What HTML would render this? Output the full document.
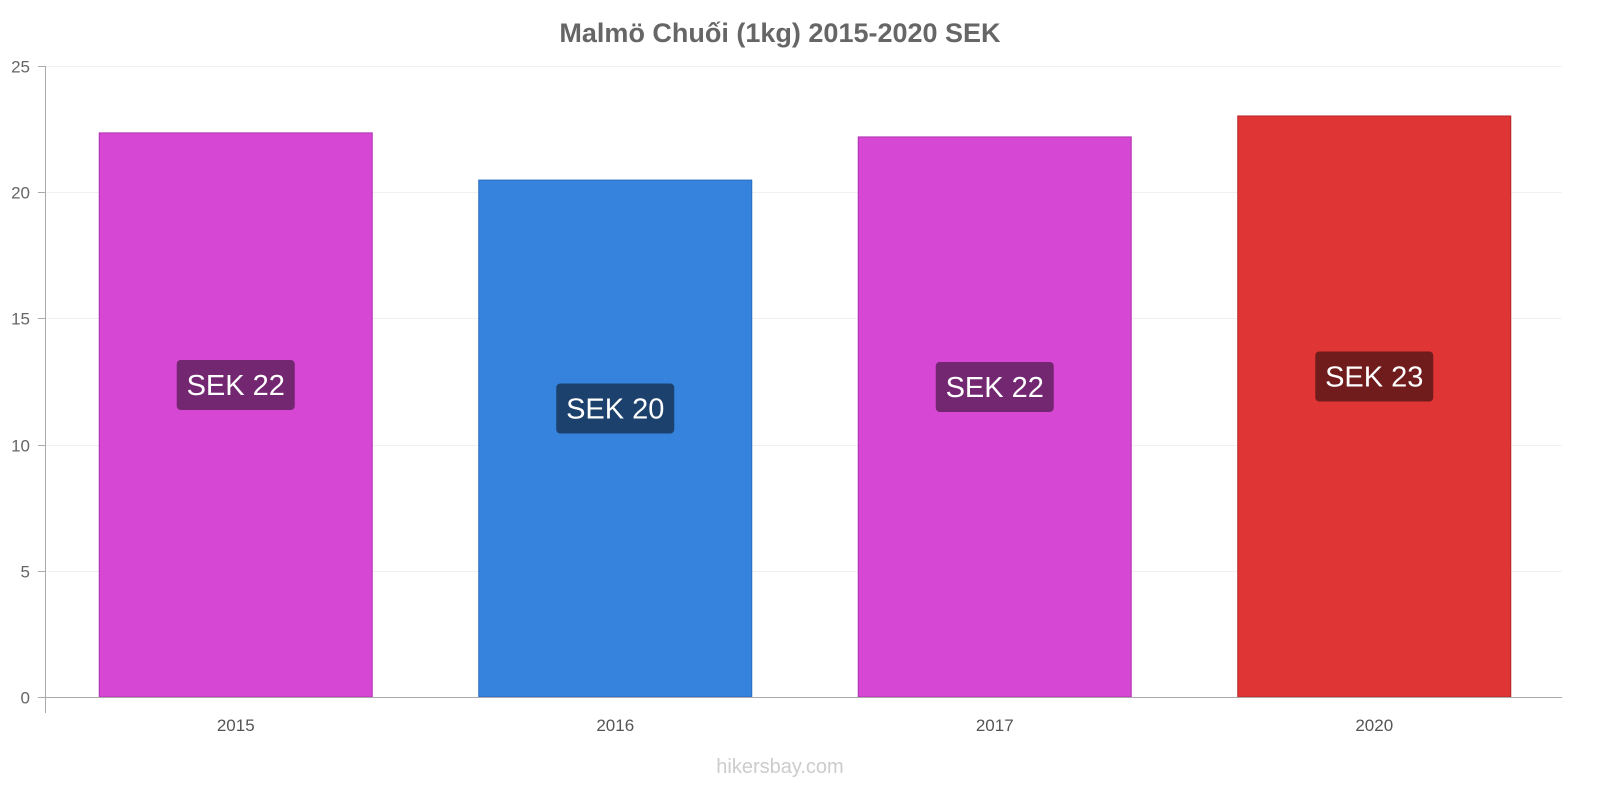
<!DOCTYPE html>
<html><head><meta charset="utf-8"><style>
body{margin:0;background:#fff;font-family:"Liberation Sans",sans-serif;}
svg text{font-family:"Liberation Sans","Noto Sans CJK SC",sans-serif;}
</style></head><body>
<svg id="chart" width="1600" height="800">
<text x="780" y="42" text-anchor="middle" font-size="27" font-weight="bold" fill="#666">Malmö Chuối (1kg) 2015-2020 SEK</text>
<g id="grid"></g><g id="bars"></g><g id="labels"></g>
<line x1="45.5" y1="66" x2="45.5" y2="713" stroke="#aaa"/>
<line x1="38" y1="697.5" x2="1562" y2="697.5" stroke="#aaa"/>
<text x="780" y="773" text-anchor="middle" font-size="20" fill="#ccc">hikersbay.com</text>
</svg>
<script>
const categories=["2015","2016","2017","2020"];
const values=[22.35,20.48,22.19,23.02];
const valueLabels=["SEK 22","SEK 20","SEK 22","SEK 23"];
const yTicks=[0,5,10,15,20,25];
const colors=["#d647d4","#3683dd","#d647d4","#e03535"];
const strokes=["#b030b0","#2a6cc0","#b030b0","#b52525"];
const labelBg=["#732771","#1c416d","#732771","#701c1c"];
const NS="http://www.w3.org/2000/svg";
const y0=697,yTop=66,yMax=25,xL=46,xR=1564;
const ys=v=>y0-(v/yMax)*(y0-yTop);
const band=(xR-xL)/categories.length;
const xc=i=>xL+band*(i+0.5);
const bw=273;
const svg=document.getElementById('chart');
function mk(t,a,p){const e=document.createElementNS(NS,t);for(const k in a)e.setAttribute(k,a[k]);p.appendChild(e);return e;}
const grid=document.getElementById('grid');
yTicks.forEach(t=>{
  const y=Math.round(ys(t))+0.5;
  if(t>0){const l=mk('line',{x1:46,x2:1562,y1:y,y2:y,stroke:'#f0f0f0'},grid);
  
  }
  const tk=mk('line',{x1:38,x2:46,y1:y,y2:y,stroke:'#aaa'},grid);
  
  
  const tx=mk('text',{x:30,y:y+6,'text-anchor':'end','font-size':17,fill:'#666'},grid);
  tx.textContent=t;
  
  
});
const bars=document.getElementById('bars'),labels=document.getElementById('labels');
categories.forEach((c,i)=>{
  const top=ys(values[i]);
  const r=mk('rect',{x:xc(i)-bw/2,y:top,width:bw,height:y0-top,fill:colors[i],stroke:strokes[i]},bars);
  
  
  const tx=mk('text',{x:xc(i),y:y0+34,'text-anchor':'middle','font-size':17,fill:'#555'},bars);
  tx.textContent=c;
  
  
  const cy=(top+y0)/2-30;
  const g=mk('g',{},labels);
  
  
  mk('rect',{x:xc(i)-59,y:cy-25,width:118,height:50,rx:4,fill:labelBg[i]},g);
  const lt=mk('text',{x:xc(i),y:cy+10,'text-anchor':'middle','font-size':29,fill:'#fff'},g);
  lt.textContent=valueLabels[i];
});
</script>
</body></html>
